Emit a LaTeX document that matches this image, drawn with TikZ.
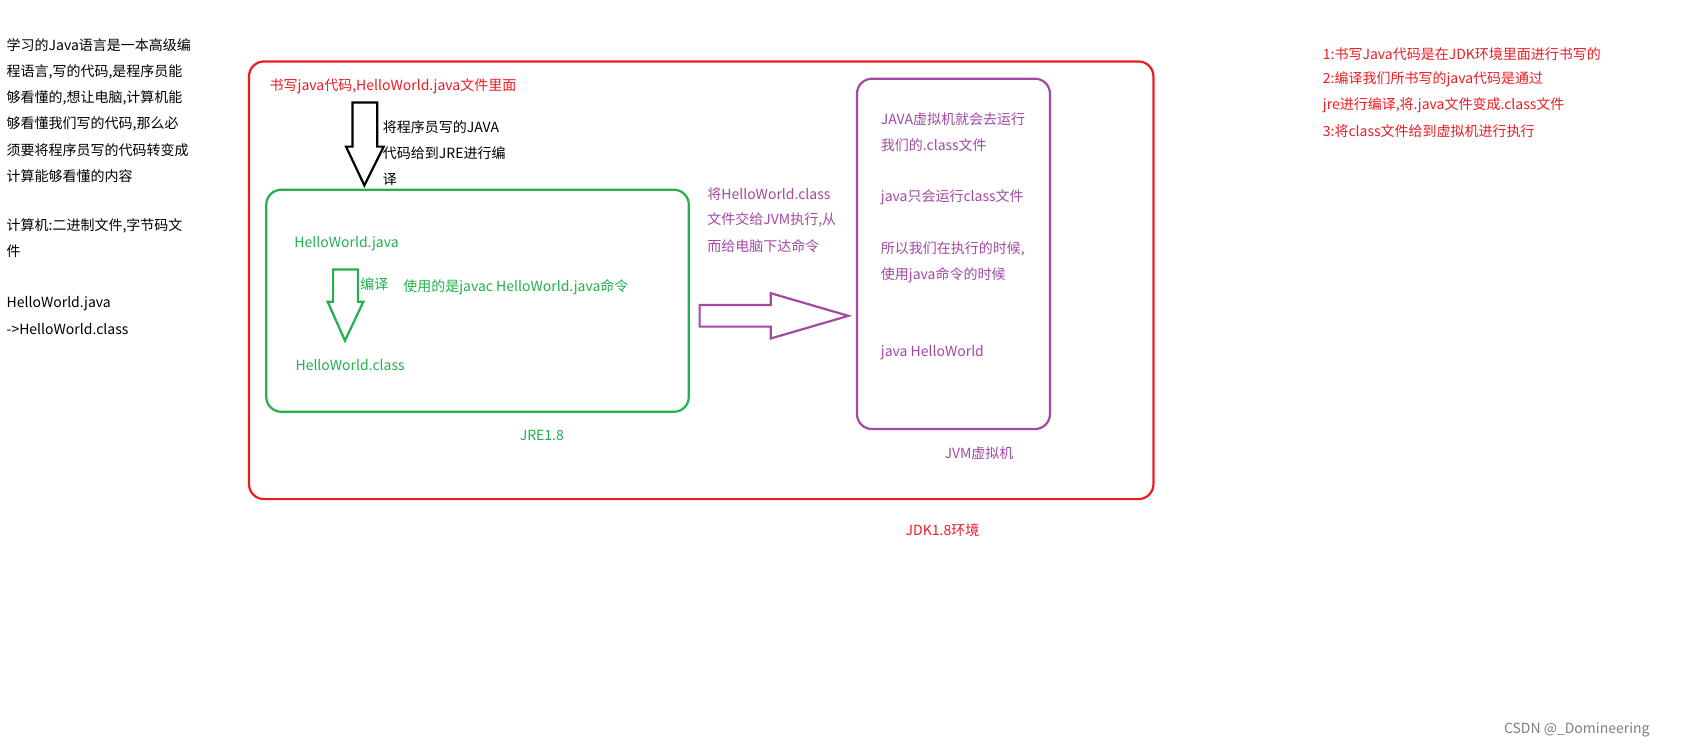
\documentclass[tikz,border=0pt]{standalone}
\usepackage{fontspec}
\setmainfont{Noto Sans CJK SC}
\definecolor{pred}{HTML}{ED1C24}
\definecolor{pgreen}{HTML}{22B14C}
\definecolor{ppurple}{HTML}{A349A4}
\begin{document}
\begin{tikzpicture}[x=1.078pt,y=-1.078pt,
  txt/.style={anchor=west,inner sep=0pt,font=\fontsize{14}{16}\selectfont},
  box/.style={draw,line width=2.2pt,rounded corners=15pt}]
\useasboundingbox[fill=white] (0,0) rectangle (1569.6,693.9);
% left text
\foreach \t/\y [count=\i] in {学习的Java语言是一本高级编/42,程语言{,}写的代码{,}是程序员能/67,够看懂的{,}想让电脑{,}计算机能/91,够看懂我们写的代码{,}那么必/115,须要将程序员写的代码转变成/139,计算能够看懂的内容/163,计算机:二进制文件{,}字节码文/210,件/233,HelloWorld.java/282,->HelloWorld.class/305}
  \node[txt] (l\i) at (6,\y) {\t};
% JDK box
\draw[box,pred] (231,57) rectangle (1070,463);
\node[txt,pred] (jdkt) at (250,80) {书写java代码,HelloWorld.java文件里面};
\node[txt,pred] (jdk) at (840,492) {JDK1.8环境};
% black arrow
\draw[line width=2.2pt] (327,95) -- (350,95) -- (350,136) -- (356,136) -- (338,172) -- (321,136) -- (327,136) -- cycle;
\node[txt] (b1) at (355,118) {将程序员写的JAVA};
\node[txt] (b2) at (355,142) {代码给到JRE进行编};
\node[txt] (b3) at (355,166) {译};
% JRE box
\draw[box,pgreen] (247,176) rectangle (639,382);
\node[txt,pgreen] (hj) at (273,226) {HelloWorld.java};
\draw[pgreen,line width=2.2pt] (309,250) -- (332,250) -- (332,280) -- (337,280) -- (320,316) -- (304,280) -- (309,280) -- cycle;
\node[txt,pgreen] (by) at (334,264) {编译};
\node[txt,pgreen] (cmd) at (374,266) {使用的是javac HelloWorld.java命令};
\node[txt,pgreen] (hc) at (274,339) {HelloWorld.class};
\node[txt,pgreen] (jre) at (482,404) {JRE1.8};
% purple
\node[txt,ppurple] (p1) at (656,180) {将HelloWorld.class};
\node[txt,ppurple] (p2) at (656,204) {文件交给JVM执行,从};
\node[txt,ppurple] (p3) at (656,228) {而给电脑下达命令};
\draw[ppurple,line width=2.2pt] (649,283) -- (715,283) -- (715,272) -- (787,293) -- (715,314) -- (715,303) -- (649,303) -- cycle;
\draw[box,ppurple] (795,73) rectangle (974,398);
\node[txt,ppurple] (j1) at (817,111) {JAVA虚拟机就会去运行};
\node[txt,ppurple] (j2) at (817,135) {我们的.class文件};
\node[txt,ppurple] (j3) at (817,183) {java只会运行class文件};
\node[txt,ppurple] (j4) at (817,231) {所以我们在执行的时候,};
\node[txt,ppurple] (j5) at (817,255) {使用java命令的时候};
\node[txt,ppurple] (j6) at (817,327) {java HelloWorld};
\node[txt,ppurple] (jvm) at (876,420) {JVM虚拟机};
% right notes
\node[txt,pred] (r1) at (1227,50) {1:书写Java代码是在JDK环境里面进行书写的};
\node[txt,pred] (r2) at (1227,74) {2:编译我们所书写的java代码是通过};
\node[txt,pred] (r3) at (1227,98) {jre进行编译,将.java文件变成.class文件};
\node[txt,pred] (r4) at (1227,122) {3:将class文件给到虚拟机进行执行};
\node[txt,gray] (csdn) at (1395,677) {CSDN @\_Domineering};
\end{tikzpicture}
\end{document}
